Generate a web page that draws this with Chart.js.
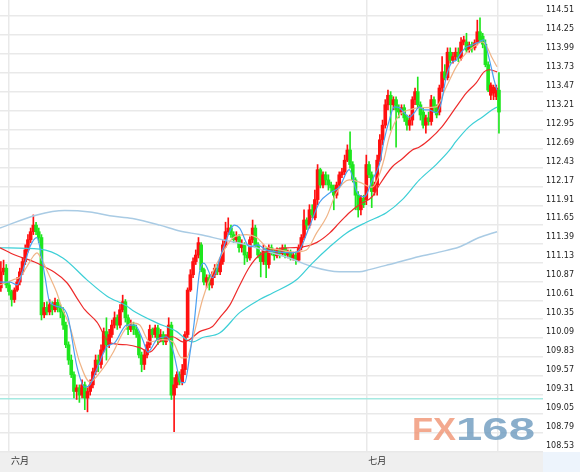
<!DOCTYPE html>
<html>
<head>
<meta charset="utf-8">
<script src="https://cdn.jsdelivr.net/npm/chart.js@4.4.1/dist/chart.umd.min.js"></script>
<style>
html,body{margin:0;padding:0;background:#fff;}
#wrap{width:580px;height:472px;position:relative;}
</style>
</head>
<body>
<div id="wrap"><canvas id="c" width="580" height="472"></canvas></div>
<script>
// ---- candle data (4-hour candles, index 0..184) ----
const opens = [
110.78,111.00,111.05,110.82,110.73,110.62,110.75,110.86,111.00,111.14,
111.30,111.44,111.55,111.64,111.55,111.47,110.41,110.51,110.45,110.55,
110.48,110.58,110.51,110.45,110.27,110.00,109.79,109.59,109.36,109.41,
109.31,109.45,109.27,109.36,109.45,109.63,109.79,109.73,109.93,110.18,
110.00,110.14,110.27,110.37,110.27,110.48,110.59,110.37,110.21,110.27,
110.21,110.14,109.86,109.73,109.86,110.00,110.21,110.14,110.23,110.07,
110.14,110.04,110.10,110.27,109.31,109.45,109.59,109.49,109.66,110.14,
110.75,110.96,111.14,111.23,111.37,111.03,110.86,110.92,110.82,110.96,
111.05,111.00,111.14,111.37,111.55,111.60,111.51,111.44,111.48,111.33,
111.37,111.23,111.19,111.44,111.60,111.37,111.23,111.14,111.30,111.10,
111.33,111.27,111.22,111.30,111.25,111.33,111.23,111.27,111.19,111.23,
111.16,111.33,111.47,111.71,111.64,111.85,111.74,111.99,112.40,112.19,
112.33,112.26,112.19,112.15,112.05,112.19,112.33,112.37,112.53,112.67,
112.47,112.26,112.05,111.85,112.01,111.99,112.47,112.33,112.10,112.19,
112.53,112.81,113.01,113.29,113.42,113.29,113.36,113.22,113.19,113.25,
113.11,113.01,113.08,113.36,113.47,113.29,113.19,113.01,113.11,113.06,
113.36,113.25,113.19,113.52,113.74,113.66,114.01,113.90,113.95,114.01,
113.93,114.15,114.15,114.04,114.11,114.07,114.15,114.29,114.23,114.12,
113.84,113.42,113.45,113.40,113.49];
const highs = [
111.14,111.16,111.10,110.86,110.75,110.78,110.92,111.05,111.19,111.37,
111.51,111.60,111.78,111.68,111.60,111.51,110.58,110.59,110.62,110.59,
110.64,110.62,110.55,110.51,110.31,110.04,109.86,109.63,109.45,109.45,
109.52,109.49,109.41,109.52,109.68,109.86,109.86,110.00,110.23,110.37,
110.21,110.34,110.45,110.41,110.55,110.68,110.62,110.41,110.34,110.31,
110.27,110.18,109.90,109.93,110.04,110.27,110.23,110.27,110.27,110.21,
110.18,110.14,110.37,110.31,109.55,109.63,109.63,109.73,110.18,110.78,
111.03,111.19,111.30,111.47,111.40,111.05,110.96,110.96,111.00,111.10,
111.10,111.19,111.44,111.68,111.74,111.64,111.55,111.55,111.51,111.44,
111.40,111.27,111.48,111.71,111.64,111.40,111.27,111.37,111.33,111.37,
111.37,111.30,111.33,111.33,111.37,111.37,111.30,111.30,111.27,111.27,
111.37,111.51,111.85,111.74,111.92,111.92,112.12,112.47,112.42,112.37,
112.37,112.33,112.23,112.19,112.23,112.37,112.42,112.60,112.74,112.92,
112.51,112.29,112.10,112.05,112.05,112.60,112.51,112.37,112.23,112.60,
112.88,113.08,113.36,113.49,113.47,113.40,113.40,113.29,113.29,113.29,
113.15,113.15,113.40,113.52,113.67,113.33,113.25,113.15,113.19,113.42,
113.40,113.29,113.56,113.95,113.84,114.07,114.07,114.01,114.07,114.07,
114.21,114.23,114.27,114.15,114.15,114.18,114.45,114.48,114.27,114.18,
113.88,113.59,113.56,113.56,113.73];
const lows = [
110.73,110.96,110.78,110.68,110.53,110.58,110.73,110.82,110.96,111.10,
111.27,111.40,111.51,111.51,111.40,110.34,110.37,110.41,110.41,110.41,
110.45,110.45,110.37,110.21,109.96,109.73,109.55,109.27,109.25,109.21,
109.27,109.11,109.08,109.31,109.41,109.59,109.63,109.68,109.90,109.79,
109.96,110.10,110.23,110.21,110.23,110.45,110.31,110.14,110.18,110.14,
110.10,109.82,109.63,109.66,109.82,109.96,110.10,110.10,110.00,110.04,
110.00,110.00,110.07,109.25,108.81,109.41,109.45,109.45,109.59,110.10,
110.73,110.92,111.10,111.19,111.00,110.82,110.78,110.75,110.78,110.92,
110.96,110.96,111.10,111.33,111.51,111.47,111.40,111.40,111.27,111.27,
111.10,111.14,111.16,111.40,111.33,111.19,110.93,111.10,110.92,111.05,
111.23,111.16,111.19,111.19,111.22,111.19,111.19,111.16,111.16,111.10,
111.14,111.30,111.44,111.58,111.60,111.74,111.71,111.92,112.15,112.15,
112.19,112.12,112.10,111.85,112.01,112.15,112.29,112.33,112.51,112.42,
112.23,111.85,111.75,111.78,111.88,111.92,112.29,111.88,112.05,112.05,
112.51,112.74,112.97,113.22,112.94,113.22,112.71,113.11,113.15,113.06,
112.94,112.94,113.01,113.29,113.25,113.08,112.97,112.90,113.01,113.01,
113.19,113.11,113.15,113.47,113.63,113.63,113.86,113.86,113.90,113.88,
113.90,114.11,114.01,114.01,114.01,114.04,114.11,114.14,114.07,113.81,
113.47,113.36,113.36,113.36,112.90];
const closes = [
111.00,111.05,110.82,110.73,110.62,110.75,110.86,111.00,111.14,111.30,
111.44,111.55,111.64,111.55,111.47,110.41,110.51,110.45,110.55,110.48,
110.58,110.51,110.45,110.27,110.00,109.79,109.59,109.36,109.41,109.31,
109.45,109.27,109.36,109.45,109.63,109.79,109.73,109.93,110.18,110.00,
110.14,110.27,110.37,110.27,110.48,110.59,110.37,110.21,110.27,110.21,
110.14,109.86,109.73,109.86,110.00,110.21,110.14,110.23,110.07,110.14,
110.04,110.10,110.27,109.31,109.45,109.59,109.49,109.66,110.14,110.75,
110.96,111.14,111.23,111.40,111.03,110.86,110.92,110.82,110.96,111.05,
111.00,111.14,111.37,111.55,111.60,111.51,111.44,111.48,111.33,111.37,
111.23,111.19,111.44,111.60,111.37,111.23,111.14,111.30,111.10,111.33,
111.27,111.22,111.30,111.25,111.33,111.23,111.27,111.19,111.23,111.16,
111.33,111.47,111.71,111.64,111.85,111.78,111.99,112.40,112.19,112.33,
112.26,112.19,112.15,112.05,112.19,112.33,112.37,112.53,112.67,112.47,
112.26,112.05,111.85,112.01,111.92,112.47,112.33,112.10,112.19,112.53,
112.81,113.01,113.29,113.42,113.29,113.36,113.22,113.19,113.25,113.11,
113.01,113.08,113.36,113.47,113.29,113.15,113.01,113.11,113.06,113.36,
113.25,113.15,113.52,113.74,113.66,114.01,113.90,113.95,114.01,113.93,
114.15,114.18,114.04,114.11,114.07,114.14,114.29,114.18,114.12,113.84,
113.49,113.56,113.53,113.52,113.19];

// ---- moving averages: [candle index, value] ----
const maFast = [[-0.3,110.86],[3.4,110.86],[6.0,110.82],[8.2,111.03],[10.7,111.34],[13.3,111.47],[14.4,111.34],[16.3,110.93],[18.1,110.58],[22.5,110.51],[24.8,110.38],[28.1,109.70],[31.0,109.42],[32.9,109.45],[35.8,109.70],[39.1,109.97],[42.1,110.03],[46.5,110.27],[49.5,110.27],[52.4,110.07],[54.3,109.90],[57.6,110.07],[61.3,110.11],[63.5,109.93],[66.8,109.48],[67.9,109.48],[69.7,109.84],[71.4,110.30],[73.4,111.00],[75.0,111.12],[78.2,110.92],[81.9,111.30],[86.3,111.64],[88.2,111.60],[91.9,111.34],[94.8,111.37],[98.1,111.30],[102.9,111.27],[107.7,111.26],[110.3,111.30],[114.0,111.62],[117.7,111.95],[121.4,112.08],[125.0,112.16],[128.7,112.40],[131.7,112.08],[134.3,112.03],[137.2,112.26],[139.8,112.47],[141.6,112.81],[143.5,113.08],[145.3,113.26],[147.2,113.25],[149.0,113.18],[150.9,113.12],[152.7,113.18],[154.6,113.26],[156.4,113.22],[158.2,113.22],[160.8,113.18],[162.7,113.32],[164.5,113.67],[166.4,113.86],[168.2,113.90],[170.0,114.00],[171.9,114.08],[174.1,114.11],[176.7,114.15],[178.5,114.18],[179.6,114.04],[181.1,113.81],[182.2,113.63],[183.3,113.49]];
const maMid = [[-0.3,110.82],[4.5,110.89],[7.1,110.93],[9.6,111.07],[11.9,111.21],[13.3,111.26],[15.2,111.16],[18.1,110.93],[20.7,110.71],[22.5,110.51],[25.5,110.25],[29.2,109.75],[32.9,109.49],[36.6,109.62],[41.4,109.89],[45.0,110.16],[48.4,110.30],[51.3,110.27],[55.0,110.04],[59.8,110.07],[63.5,110.04],[66.8,109.82],[68.6,109.82],[70.8,110.07],[74.5,110.62],[77.1,110.89],[81.9,111.26],[86.3,111.48],[90.8,111.51],[94.5,111.47],[98.1,111.34],[102.9,111.30],[107.7,111.27],[112.9,111.30],[116.6,111.53],[120.3,111.75],[123.9,112.08],[128.7,112.26],[132.4,112.23],[137.2,112.16],[139.8,112.33],[141.6,112.55],[143.5,112.85],[147.2,113.15],[150.9,113.22],[155.7,113.25],[160.8,113.26],[164.5,113.53],[168.2,113.81],[171.9,114.00],[175.6,114.11],[177.8,114.15],[179.6,114.08],[181.5,113.93],[183.3,113.81]];
const maRed = [[-0.3,111.33],[5.2,111.23],[13.3,111.12],[24.4,110.85],[28.1,110.64],[31.0,110.48],[35.5,110.31],[40.2,110.03],[46.5,110.00],[51.3,109.96],[55.0,109.90],[58.7,110.04],[63.5,110.11],[67.2,110.04],[69.7,110.07],[73.4,110.18],[78.2,110.25],[80.8,110.37],[84.5,110.54],[88.0,110.80],[91.9,111.07],[95.6,111.23],[100.4,111.30],[106.6,111.33],[111.4,111.34],[116.6,111.40],[121.4,111.53],[125.0,111.67],[128.7,111.81],[132.4,111.92],[137.2,112.03],[139.8,112.19],[144.6,112.44],[148.3,112.55],[152.0,112.67],[154.6,112.71],[158.2,112.81],[163.0,112.99],[168.2,113.26],[171.9,113.45],[175.6,113.59],[178.5,113.74],[180.4,113.77],[183.3,113.74]];
const maTeal = [[-0.3,111.33],[14.4,111.31],[22.9,111.19],[31.8,110.89],[39.1,110.67],[46.5,110.53],[48.7,110.47],[57.6,110.30],[65.0,110.18],[68.6,110.07],[71.0,110.04],[74.5,110.10],[80.8,110.16],[88.2,110.44],[95.6,110.62],[100.4,110.71],[109.2,110.89],[115.1,111.12],[121.4,111.34],[127.6,111.53],[135.0,111.68],[142.4,111.81],[148.3,111.99],[154.6,112.26],[160.8,112.47],[165.6,112.66],[168.2,112.79],[173.0,112.99],[177.8,113.12],[181.5,113.22],[183.3,113.26]];
const maSlow = [[-0.3,111.60],[13.3,111.78],[23.6,111.84],[32.9,111.82],[40.2,111.77],[48.7,111.73],[58.7,111.64],[66.1,111.56],[73.4,111.51],[81.9,111.44],[90.8,111.37],[99.2,111.27],[106.6,111.19],[115.1,111.07],[125.0,111.00],[132.4,111.00],[136.1,111.03],[143.5,111.10],[154.6,111.21],[161.9,111.27],[169.3,111.34],[176.7,111.47],[183.3,111.55]];
const levelValue = 109.26;

// ---- axis ticks ----
const yTickValues = [108.53,108.79,109.05,109.31,109.57,109.83,110.09,110.35,110.61,110.87,111.13,111.39,111.65,111.91,112.17,112.43,112.69,112.95,113.21,113.47,113.73,113.99,114.25,114.51];
const monthTickIndex = [3, 135, 183.7];
const monthTickLabel = ['六月', '七月', ''];
const watermarkParts = ['FX', '168'];

// ---- build ----
const idx = closes.map((_, i) => i);
const RED = '#ff1010', GREEN = '#1ee61e';
const candleColor = idx.map(i => closes[i] >= opens[i] ? RED : GREEN);
const pts = arr => arr.map(p => ({x: p[0], y: p[1]}));

const bgPlugin = {
  id: 'bg',
  beforeDraw(chart) {
    const {ctx, chartArea: a, width, height} = chart;
    ctx.save();
    ctx.fillStyle = '#ffffff';
    ctx.fillRect(0, 0, width, height);
    ctx.fillStyle = '#efefef';
    ctx.fillRect(0, a.bottom, a.right, height - a.bottom);
    ctx.fillStyle = '#edf4fc';
    ctx.fillRect(a.right, a.bottom, width - a.right, height - a.bottom);
    ctx.restore();
  }
};

const wmPlugin = {
  id: 'wm',
  afterDatasetsDraw(chart) {
    const {ctx, chartArea: a} = chart;
    const base = a.bottom - 12;
    ctx.save();
    ctx.font = 'bold 31px "Liberation Sans", Arial, sans-serif';
    ctx.textBaseline = 'alphabetic';
    ctx.textAlign = 'left';
    const draw = (txt, x0, x1, color) => {
      const w = ctx.measureText(txt).width;
      ctx.save();
      ctx.translate(x0, base);
      ctx.scale((x1 - x0) / w, 1);
      ctx.fillStyle = color;
      ctx.fillText(txt, 0, 0);
      ctx.restore();
    };
    draw(watermarkParts[0], a.right - 131, a.right - 87, 'rgba(240,150,118,0.82)');
    draw(watermarkParts[1], a.right - 87, a.right - 8, 'rgba(112,156,192,0.82)');
    ctx.restore();
  }
};

const lineDs = (data, color, order, width) => ({
  type: 'line', data: pts(data), borderColor: color, borderWidth: width || 1.2,
  pointRadius: 0, cubicInterpolationMode: 'monotone', fill: false, order: order
});

new Chart(document.getElementById('c'), {
  type: 'bar',
  data: {
    datasets: [
      lineDs(maFast, '#4aa0f2', 0),
      lineDs(maMid, '#f0b486', 0),
      lineDs(maRed, '#ee2a2a', 0),
      lineDs(maTeal, '#3ccfd6', 0),
      lineDs(maSlow, '#a9cbe4', 0, 1.5),
      lineDs([[-1, levelValue], [202, levelValue]], '#a6e9e1', 4, 1.5),
      { type: 'bar', data: idx.map(i => ({x: i, y: [lows[i], highs[i]]})),
        backgroundColor: candleColor, barThickness: 1, grouped: false, order: 2 },
      { type: 'bar', data: idx.map(i => ({x: i, y: [opens[i], closes[i]]})),
        backgroundColor: candleColor, barThickness: 3, grouped: false, minBarLength: 1, order: 1 }
    ]
  },
  options: {
    responsive: false,
    devicePixelRatio: 1,
    animation: false,
    events: [],
    layout: { padding: 0 },
    plugins: { legend: { display: false }, tooltip: { enabled: false } },
    scales: {
      x: {
        type: 'linear', min: -0.32, max: 200.27, offset: false,
        afterBuildTicks: s => { s.ticks = monthTickIndex.map(v => ({value: v})); },
        afterFit: s => { s.height = 20; s.paddingLeft = 0; s.paddingRight = 0; },
        grid: { color: '#e9e9e9', lineWidth: 1.5, offset: false, drawTicks: false },
        border: { display: false },
        ticks: {
          autoSkip: false, maxRotation: 0, minRotation: 0, align: 'start', padding: 3, labelOffset: 2,
          color: '#333', font: { family: '"Noto Sans CJK SC"', size: 9 },
          callback: (v, i) => monthTickLabel[i]
        }
      },
      y: {
        type: 'linear', position: 'right', min: 108.53, max: 114.726,
        afterBuildTicks: s => { s.ticks = yTickValues.map(v => ({value: v})); },
        afterFit: s => { s.width = 37; s.paddingTop = 0; s.paddingBottom = 0; },
        grid: { color: '#e9e9e9', lineWidth: 1.5, drawTicks: false },
        border: { display: false },
        ticks: {
          padding: 3, labelOffset: -6, color: '#222',
          font: { family: '"DejaVu Sans"', size: 8 },
          callback: v => Number(v).toFixed(2)
        }
      }
    }
  },
  plugins: [bgPlugin, wmPlugin]
});
</script>
</body>
</html>
